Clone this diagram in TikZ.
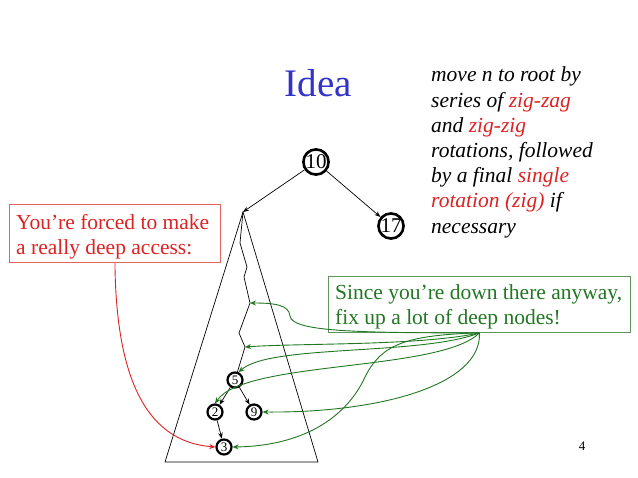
\documentclass[tikz,border=0pt]{standalone}
\usepackage{fontspec}
\setmainfont{Liberation Serif}
\usetikzlibrary{arrows.meta}
\definecolor{titleblue}{RGB}{51,51,204}
\definecolor{myred}{RGB}{221,34,34}
\definecolor{redframe}{RGB}{228,100,100}
\definecolor{mygreen}{RGB}{34,119,34}
\definecolor{greenframe}{RGB}{95,150,95}
\tikzset{
  bignode/.style={circle, draw=black, line width=2.6pt, minimum size=24pt, inner sep=0pt, font=\fontsize{21}{21}\selectfont},
  smallnode/.style={circle, draw=black, line width=2.2pt, minimum size=15pt, inner sep=0pt, font=\fontsize{13}{13}\selectfont},
  edge/.style={draw=black, line width=0.7pt, -{Stealth[length=6pt,width=4.5pt]}},
  plain/.style={draw=black, line width=0.7pt},
  greenarrow/.style={draw=mygreen, line width=0.9pt, -{Stealth[length=6pt,width=5pt]}},
  redarrow/.style={draw=myred, line width=0.9pt, -{Stealth[length=6pt,width=5pt]}},
  body/.style={inner sep=0pt, anchor=base west, font=\fontsize{21.5}{25}\selectfont},
  itbody/.style={inner sep=0pt, anchor=base west, font=\fontsize{21.5}{25}\selectfont\itshape},
}
\begin{document}
\begin{tikzpicture}[x=1pt,y=-1pt]
\useasboundingbox (0,0) rectangle (638,478);

% title
\node[inner sep=0pt, anchor=base, text=titleblue, font=\fontsize{39}{39}\selectfont] (title) at (318.5,97) {Idea};

% italic description
\node[itbody] (l1) at (431,82) {move n to root by};
\node[itbody] (l2) at (431,107.2) {series of \textcolor{myred}{zig-zag}};
\node[itbody] (l3) at (431,132.4) {and \textcolor{myred}{zig-zig}};
\node[itbody] (l4) at (431,157.6) {rotations, followed};
\node[itbody] (l5) at (431,182.8) {by a final \textcolor{myred}{single}};
\node[itbody] (l6) at (431,208) {\textcolor{myred}{rotation (zig)} if};
\node[itbody] (l7) at (431,233.2) {necessary};

% tree top
\node[bignode] (n10) at (316,162) {10};
\node[bignode] (n17) at (391,226) {17};
\coordinate (apex) at (243,212);
\draw[edge] (n10) -- (apex);
\draw[edge] (n10) -- (n17);

% triangle
\coordinate (bl) at (165,462);
\coordinate (br) at (318,462);
\draw[plain] (apex) -- (bl) -- (br) -- cycle;

% zigzag path
\coordinate (z1) at (250,303);
\coordinate (z2) at (245,347);
\node[smallnode] (n5) at (235,380) {5};
\node[smallnode] (n2) at (215,412) {2};
\node[smallnode] (n9) at (254,412) {9};
\node[smallnode] (n3) at (224,447) {3};
\draw[plain] (apex) -- (240,243) -- (247,267) -- (244,277) -- (z1) -- (239,333) -- (z2) -- (n5);
\draw[edge] (n5) -- (n2);
\draw[edge] (n5) -- (n9);
\draw[edge] (n2) -- (n3);

% red box
\node[draw=redframe, line width=0.9pt, minimum width=211pt, minimum height=58pt, anchor=north west, inner sep=0pt] (redbox) at (9,204) {};
\node[body, text=myred] (r1) at (16,230) {You’re forced to make};
\node[body, text=myred] (r2) at (16,255) {a really deep access:};
\draw[redarrow] (redbox.south) .. controls (116,385) and (150,442) .. (n3.west);

% green box
\node[draw=greenframe, line width=0.9pt, minimum width=302pt, minimum height=56pt, anchor=north west, inner sep=0pt] (greenbox) at (328,276) {};
\node[body, text=mygreen] (g1) at (335,300) {Since you’re down there anyway,};
\node[body, text=mygreen] (g2) at (335,324.5) {fix up a lot of deep nodes!};

\draw[greenarrow] (greenbox.south) .. controls (350,333) and (292,331) .. (290,316) .. controls (289,305) and (275,303) .. (z1);
\draw[greenarrow] (greenbox.south) .. controls (420,346) and (300,343) .. (z2);
\draw[greenarrow] (greenbox.south) .. controls (420,356) and (270,344) .. (n5.65);
\draw[greenarrow] (greenbox.south) .. controls (440,372) and (245,360) .. (n2.north);
\draw[greenarrow] (greenbox.south) .. controls (482,385) and (380,413) .. (n9.east);
\draw[greenarrow] (greenbox.south) .. controls (405,335) and (382,345) .. (366,375) .. controls (346,420) and (300,446) .. (n3.east);

% page number
\node[inner sep=0pt, anchor=base, font=\fontsize{13}{13}\selectfont] (page) at (582,451) {4};
\end{tikzpicture}
\end{document}
